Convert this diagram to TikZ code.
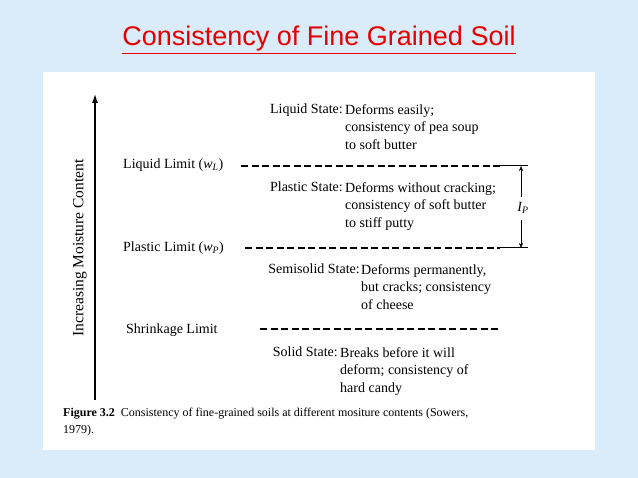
\documentclass[tikz,border=0pt]{standalone}
\usepackage{fontspec}
\setmainfont{Liberation Serif}
\newfontfamily\titlefont{Liberation Sans}
\usetikzlibrary{arrows.meta}
\definecolor{bgblue}{RGB}{218,236,250}
\definecolor{titlered}{RGB}{230,0,0}
\begin{document}
\begin{tikzpicture}[x=1pt,y=-1pt,
  txt/.style={inner sep=0pt,font=\fontsize{14}{17.5}\selectfont},
  lbl/.style={txt,anchor=north east},
  desc/.style={txt,anchor=north west,align=left},
  lim/.style={txt,anchor=west},
  dashline/.style={line width=1.2pt,dash pattern=on 7pt off 3.5pt}]
\useasboundingbox (0,0) rectangle (638,478);
\fill[bgblue] (0,0) rectangle (638,478);
\fill[white] (43,72) rectangle (595,450);
\node[inner sep=0pt,text=titlered,font=\titlefont\fontsize{27}{32}\selectfont] (title) at (319,40)
  {\underline{Consistency of Fine Grained Soil}};
% axis
\coordinate (ab) at (95,400);
\coordinate (at) at (95,94);
\draw[line width=1.2pt,-{Latex[length=9pt,width=6pt]}] (ab) -- (at);
\node[txt,rotate=90,font=\fontsize{15.5}{17}\selectfont] (axl) at (80,248) {Increasing Moisture Content};
% states
\node[lbl] (ls) at (343,104) {Liquid State:};
\node[desc] (lsd) at (345,104) {Deforms easily;\\consistency of pea soup\\to soft butter};
\node[lbl] (ps) at (343,182) {Plastic State:};
\node[desc] (psd) at (345,182) {Deforms without cracking;\\consistency of soft butter\\to stiff putty};
\node[lbl] (ss) at (360,264) {Semisolid State:};
\node[desc] (ssd) at (361,264) {Deforms permanently,\\but cracks; consistency\\of cheese};
\node[lbl] (sos) at (338,347) {Solid State:};
\node[desc] (sosd) at (340,347) {Breaks before it will\\deform; consistency of\\hard candy};
% limits
\node[lim] (ll) at (123,165) {Liquid Limit (\textit{w}\textsubscript{\textit{L}})};
\node[lim] (pl) at (123,248) {Plastic Limit (\textit{w}\textsubscript{\textit{P}})};
\node[lim] (sl) at (126,330) {Shrinkage Limit};
\coordinate (lle) at (500,166);
\coordinate (lls) at (528,166);
\coordinate (ple) at (500,248);
\coordinate (pls) at (528,248);
\draw[dashline] (241,166) -- (lle);
\draw[line width=1pt] (lle) -- (lls);
\draw[dashline] (245,248) -- (ple);
\draw[line width=1pt] (ple) -- (pls);
\draw[dashline] (260,329) -- (500,329);
% Ip
\node[txt,font=\fontsize{14}{16}\selectfont\itshape] (ip) at (523,208) {I\textsubscript{P}};
\coordinate (ipt) at (521,166);
\coordinate (ipb) at (521,248);
\coordinate (ipu) at (521,197);
\coordinate (ipd) at (521,220);
\draw[-{Stealth[length=5pt,width=4pt]}] (ipu) -- (ipt);
\draw[-{Stealth[length=5pt,width=4pt]}] (ipd) -- (ipb);
% caption
\node[txt,anchor=north west,align=left,font=\fontsize{12}{17}\selectfont] (cap) at (63,408)
  {\textbf{Figure 3.2}\enspace Consistency of fine-grained soils at different mositure contents (Sowers,\\1979).};
\end{tikzpicture}
\end{document}
